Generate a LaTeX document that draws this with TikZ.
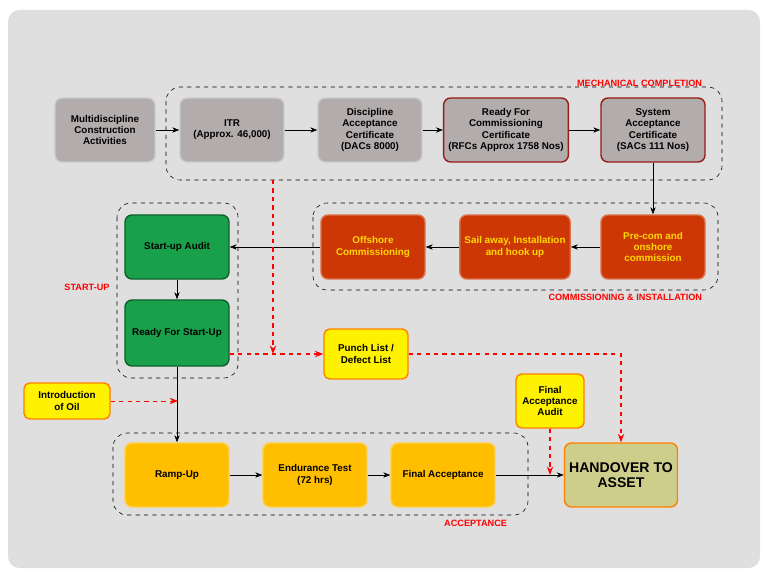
\documentclass[tikz,border=0pt]{standalone}
\usepackage{fontspec}
\setmainfont{Liberation Sans}
\usetikzlibrary{positioning,arrows.meta}
\definecolor{mygray}{RGB}{178,172,172}
\definecolor{myred}{RGB}{150,30,20}
\definecolor{myorange}{RGB}{205,55,5}
\definecolor{mygreen}{RGB}{25,160,75}
\definecolor{myyellow}{RGB}{255,190,0}
\definecolor{myolive}{RGB}{205,205,140}
\begin{document}
\begin{tikzpicture}[x=0.025cm,y=-0.025cm,
  font=\fontsize{7}{8}\selectfont\bfseries,
  box/.style={rounded corners=5pt,minimum width=2.6cm,minimum height=1.6cm,align=center,line width=1pt},
  graybox/.style={box,fill=mygray,draw=gray!40},
  redbox/.style={box,fill=mygray,draw=myred},
  orangebox/.style={box,fill=myorange,draw=myorange!70!white,text=orange!30!yellow},
  greenbox/.style={box,fill=mygreen,draw=mygreen!60!black},
  yellowbox/.style={box,fill=myyellow,draw=myyellow!70!white},
  notebox/.style={rounded corners=4pt,fill=yellow,draw=orange,line width=1pt,align=center,inner sep=3pt},
  group/.style={dashed,rounded corners=10pt},
  grouplabel/.style={text=red,font=\fontsize{6.5}{7}\selectfont\bfseries},
  arr/.style={-{Stealth[length=5pt]}},
  redarr/.style={red,dashed,line width=1pt,-{Stealth[length=6pt]}}
]
\useasboundingbox (0,0) rectangle (768,576);
\fill[gray!25,rounded corners=8pt] (8,10) rectangle (760,568);

% mechanical completion
\draw[group] (166,87) rectangle (722,180);
\node[grouplabel,anchor=east] at (707,83) {MECHANICAL COMPLETION};
\node[graybox,minimum width=2.5cm] (mdc) at (105,130) {Multidiscipline\\Construction\\Activities};
\node[graybox] (itr) at (232,130) {ITR\\(Approx. 46,000)};
\node[graybox] (dac) at (370,130) {Discipline\\Acceptance\\Certificate\\(DACs 8000)};
\node[redbox,minimum width=3.1cm] (rfc) at (506,130) {Ready For\\Commissioning\\Certificate\\(RFCs Approx 1758 Nos)};
\node[redbox] (sac) at (653,130) {System\\Acceptance\\Certificate\\(SACs 111 Nos)};

% commissioning and installation
\draw[group] (313,203) rectangle (718,290);
\node[grouplabel,anchor=east] at (707,297) {COMMISSIONING \& INSTALLATION};
\node[orangebox] (pre) at (653,247) {Pre-com and\\onshore\\commission};
\node[orangebox] (sail) at (515,247) {Sail away, Installation\\and hook up};
\node[orangebox] (off) at (373,247) {Offshore\\Commissioning};

% start-up
\draw[group] (117,203) rectangle (238,378);
\node[grouplabel] at (87,287) {START-UP};
\node[greenbox] (sua) at (177,247) {Start-up Audit};
\node[greenbox,minimum height=1.65cm] (rsu) at (177,333) {Ready For Start-Up};

% acceptance
\draw[group] (113,433) rectangle (528,515);
\node[grouplabel,anchor=east] at (512,523) {ACCEPTANCE};
\node[yellowbox] (ramp) at (177,475) {Ramp-Up};
\node[yellowbox] (end) at (315,475) {Endurance Test\\(72 hrs)};
\node[yellowbox] (fa) at (443,475) {Final Acceptance};
\node[box,fill=myolive,draw=orange,minimum width=2.6cm,font=\fontsize{10}{11}\selectfont\bfseries] (hand) at (621,475) {HANDOVER TO\\ASSET};

% notes
\node[notebox,minimum width=2.1cm,minimum height=1.25cm] (punch) at (366,354) {Punch List /\\Defect List};
\node[notebox,minimum width=2.15cm,minimum height=0.9cm] (oil) at (67,401) {Introduction\\of Oil};
\node[notebox,minimum width=1.7cm,minimum height=1.35cm] (faa) at (550,401) {Final\\Acceptance\\Audit};

% the flow
\draw[arr] (mdc) -- (itr);
\draw[arr] (itr) -- (dac);
\draw[arr] (dac) -- (rfc);
\draw[arr] (rfc) -- (sac);
\draw[arr] (sac) -- (pre);
\draw[arr] (pre) -- (sail);
\draw[arr] (sail) -- (off);
\draw[arr] (off) -- (sua);
\draw[arr] (sua) -- (rsu);
\draw[arr] (rsu) -- (ramp);
\draw[arr] (ramp) -- (end);
\draw[arr] (end) -- (fa);
\draw[arr] (fa) -- (hand);

% the red links
\coordinate (mcb) at (273,180);
\coordinate (mid) at (273,354);
\coordinate (oilend) at (178,401);
\draw[redarr] (mcb) -- (mid);
\draw[redarr] (rsu.east |- punch) -- (punch);
\draw[redarr] (punch) -| (hand);
\draw[redarr,line width=0.5pt] (oil) -- (oilend);
\draw[redarr] (faa) -- (faa |- hand.west);
\end{tikzpicture}
\end{document}
